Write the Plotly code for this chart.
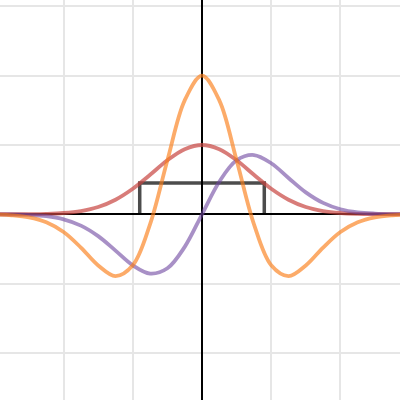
import plotly.graph_objects as go

# sample positions along x
xs = [-3.0, -2.75, -2.5, -2.25, -2.0, -1.75, -1.5, -1.25, -1.0, -0.75, -0.5, -0.25,
      0.0, 0.25, 0.5, 0.75, 1.0, 1.25, 1.5, 1.75, 2.0, 2.25, 2.5, 2.75, 3.0]

# red bell curve
bell = [0.0001, 0.0005, 0.0019, 0.0063, 0.0183, 0.0468, 0.105, 0.210, 0.368, 0.570, 0.779, 0.939,
        1.0, 0.939, 0.779, 0.570, 0.368, 0.210, 0.105, 0.0468, 0.0183, 0.0063, 0.0019, 0.0005, 0.0001]

# purple odd wave
wave1 = [-0.001, -0.003, -0.010, -0.028, -0.073, -0.164, -0.316, -0.524, -0.736, -0.855, -0.779, -0.470,
         0.0, 0.470, 0.779, 0.855, 0.736, 0.524, 0.316, 0.164, 0.073, 0.028, 0.010, 0.003, 0.001]

# orange even wave
wave2 = [-0.004, -0.015, -0.044, -0.115, -0.256, -0.480, -0.738, -0.892, -0.736, -0.142, 0.779, 1.644,
         2.0, 1.644, 0.779, -0.142, -0.736, -0.892, -0.738, -0.480, -0.256, -0.115, -0.044, -0.015, -0.004]

# black box
box_x = [-0.9, -0.9, 0.9, 0.9]
box_y = [0.0, 0.45, 0.45, 0.0]

fig = go.Figure()

fig.add_trace(go.Scatter(x=box_x, y=box_y, mode='lines',
                         line=dict(color='rgba(0,0,0,0.7)', width=3.5), hoverinfo='none'))
fig.add_trace(go.Scatter(x=xs, y=bell, mode='lines', line_shape='spline',
                         line=dict(color='rgba(199,68,64,0.7)', width=3.8), hoverinfo='none'))
fig.add_trace(go.Scatter(x=xs, y=wave1, mode='lines', line_shape='spline',
                         line=dict(color='rgba(110,70,160,0.6)', width=3.8), hoverinfo='none'))
fig.add_trace(go.Scatter(x=xs, y=wave2, mode='lines', line_shape='spline',
                         line=dict(color='rgba(250,126,25,0.65)', width=3.8), hoverinfo='none'))

axis_style = dict(showgrid=True, gridcolor='#e6e6e6', gridwidth=1.5, dtick=1,
                  zeroline=True, zerolinecolor='black', zerolinewidth=1.5,
                  showticklabels=False, ticks='', showline=False)

fig.update_layout(
    width=400, height=400,
    margin=dict(l=0, r=0, t=0, b=0),
    showlegend=False,
    plot_bgcolor='white', paper_bgcolor='white',
    xaxis=dict(range=[-2.919, 2.861], **axis_style),
    yaxis=dict(range=[-2.680, 3.092], **axis_style),
)

# drop the page's default body margin so the chart fills the window
fig.write_html("out.html", config={'displayModeBar': False},
               post_script="document.body.style.margin='0';document.body.style.overflow='hidden';")
